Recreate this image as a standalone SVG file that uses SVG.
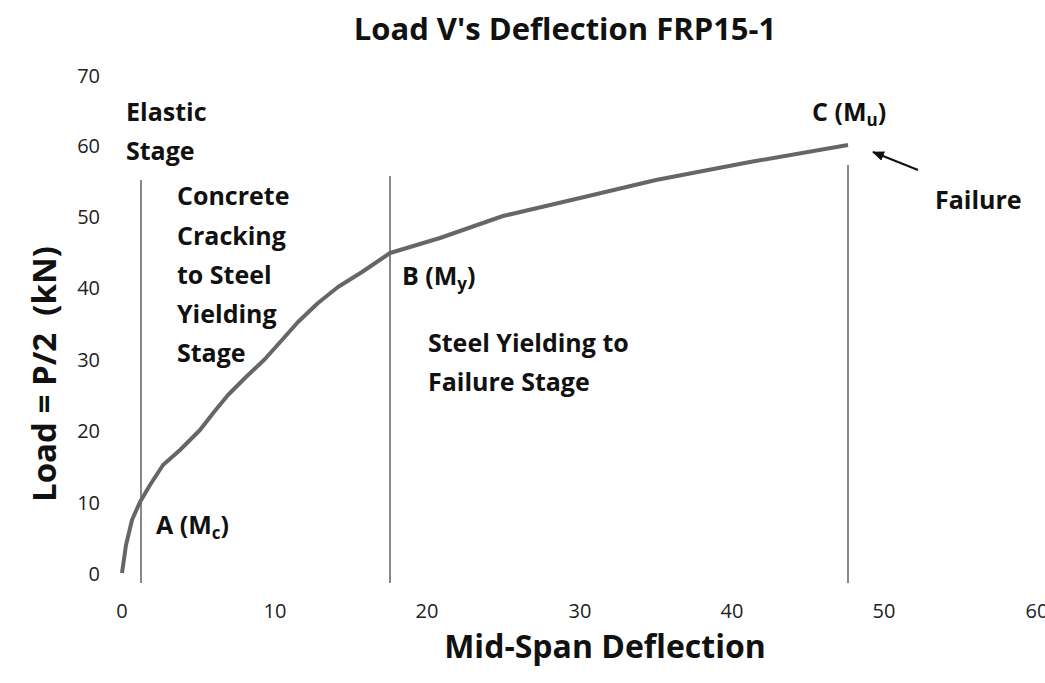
<svg xmlns="http://www.w3.org/2000/svg" width="1045" height="683" viewBox="0 0 1045 683">
<style>
text{font-family:"Open Sans","Liberation Sans",sans-serif;fill:#111}
.t{font-size:20px;fill:#222}
.l{font-size:25px;font-weight:bold}
.v{stroke:#888;stroke-width:2}
</style>
<defs><marker id="a" markerWidth="12" markerHeight="10" refX="11" refY="5" orient="auto" markerUnits="userSpaceOnUse"><path d="M0,0L12,5L0,10z" fill="#111"/></marker></defs>
<rect width="1045" height="683" fill="#fff"/>
<text x="565" y="40" text-anchor="middle" style="font-size:31px;font-weight:bold">Load V's Deflection FRP15-1</text>
<g id="yticks" text-anchor="end">
<text x="100" y="581" class="t">0</text><text x="100" y="510" class="t">10</text><text x="100" y="438" class="t">20</text><text x="100" y="367" class="t">30</text><text x="100" y="295" class="t">40</text><text x="100" y="224" class="t">50</text><text x="100" y="153" class="t">60</text><text x="100" y="83" class="t">70</text>
</g>
<g id="xticks" text-anchor="middle">
<text x="122" y="618" class="t">0</text><text x="275" y="618" class="t">10</text><text x="427" y="618" class="t">20</text><text x="580" y="618" class="t">30</text><text x="732" y="618" class="t">40</text><text x="884" y="618" class="t">50</text><text x="1037" y="618" class="t">60</text>
</g>
<text x="605" y="658" text-anchor="middle" style="font-size:32px;font-weight:bold">Mid-Span Deflection</text>
<text transform="translate(56,374) rotate(-90)" text-anchor="middle" style="font-size:33px;font-weight:bold;white-space:pre" xml:space="preserve">Load = P/2  (kN)</text>
<g id="connectors">
<line class="v" x1="141" y1="180" x2="141" y2="583"/>
<line class="v" x1="390" y1="176" x2="390" y2="583"/>
<line class="v" x1="848" y1="165" x2="848" y2="583"/>
<polyline fill="none" stroke="#666" stroke-width="4" stroke-linejoin="round" points="122,573 126,545 132,520 140,502 150,485 163,465 180,450 200,430 214,412 228,395 246,377 265,359 282,340 298,322 318,303 338,287 362,272 390,253 440,238 503,216 580,198 656,180 750,162 848,145"/>
<line x1="918" y1="170" x2="873" y2="152" stroke="#111" stroke-width="2" marker-end="url(#a)"/>
</g>
<g id="labels">
<text x="126" y="121" class="l">Elastic</text><text x="126" y="160" class="l">Stage</text>
<text x="177" y="205" class="l">Concrete</text><text x="177" y="245" class="l">Cracking</text><text x="177" y="284" class="l">to Steel</text><text x="177" y="323" class="l">Yielding</text><text x="177" y="362" class="l">Stage</text>
<text x="428" y="352" class="l">Steel Yielding to</text><text x="428" y="391" class="l">Failure Stage</text>
<text x="156" y="534" class="l">A (M<tspan font-size="17" dy="5">c</tspan><tspan dy="-5">)</tspan></text>
<text x="402" y="285" class="l">B (M<tspan font-size="17" dy="5">y</tspan><tspan dy="-5">)</tspan></text>
<text x="812" y="121" class="l">C (M<tspan font-size="17" dy="5">u</tspan><tspan dy="-5">)</tspan></text>
<text x="935" y="209" class="l">Failure</text>
</g>
</svg>
